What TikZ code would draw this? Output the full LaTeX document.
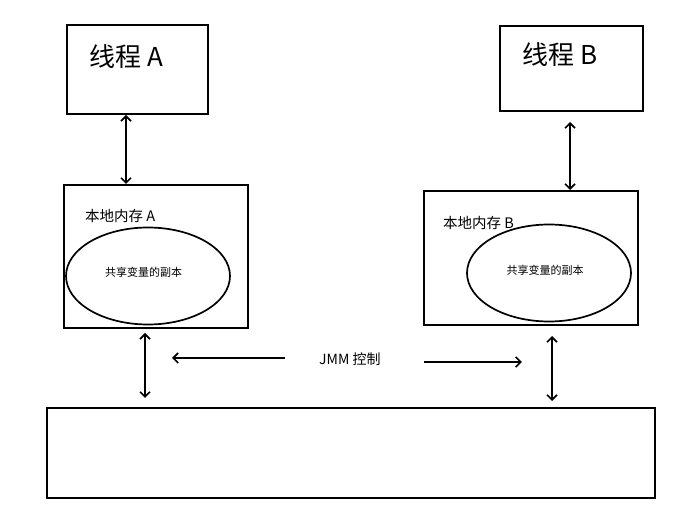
\documentclass[tikz,border=0pt]{standalone}
\usepackage{fontspec}
\setmainfont{Noto Sans CJK SC}
\usetikzlibrary{arrows.meta,shapes.geometric}

\begin{document}
\begin{tikzpicture}[
    x = 1pt, y = -1pt,
    box/.style = {draw, line width = 2pt, inner sep = 0pt},
    copy/.style = {ellipse, draw, line width = 1.7pt, inner sep = 0pt,
                   minimum width = 164pt, minimum height = 97pt},
    label/.style = {anchor = west, inner sep = 0pt},
    link/.style = {{Straight Barb[length=5pt,width=10pt]}-{Straight Barb[length=5pt,width=10pt]}, line width = 1.6pt},
    ctrl/.style = {-{Straight Barb[length=5pt,width=10pt]}, line width = 1.6pt}]

\useasboundingbox (0,0) rectangle (686,526);

% threads
\node[box, minimum width = 141pt, minimum height = 89pt] (threadA) at (137.5,69.5) {};
\node[box, minimum width = 143pt, minimum height = 85pt] (threadB) at (571.5,68.5) {};
% local memory
\node[box, minimum width = 184pt, minimum height = 143pt] (memA) at (155.5,256.5) {};
\node[box, minimum width = 214pt, minimum height = 134pt] (memB) at (531,258) {};
\node[copy] (copyA) at (148,276) {};
\node[copy] (copyB) at (549,273) {};
% main memory
\node[box, minimum width = 608pt, minimum height = 90pt] (mainmem) at (351,453) {};

\path (89,57) node[label, font = \fontsize{26}{30}\selectfont] (tA) {线程 A}
      (522,55) node[label, font = \fontsize{26}{30}\selectfont] (tB) {线程 B}
      (85,216) node[label, font = \fontsize{14.5}{17}\selectfont] (lA) {本地内存 A}
      (443,223) node[label, font = \fontsize{14.5}{17}\selectfont] (lB) {本地内存 B}
      (143.5,272) node[font = \fontsize{11}{13}\selectfont] (cA) {共享变量的副本}
      (545,270) node[font = \fontsize{11}{13}\selectfont] (cB) {共享变量的副本}
      (319,359) node[label, font = \fontsize{14}{17}\selectfont] (jmm) {JMM 控制};

\draw[link] ([xshift=-11.5pt]threadA.south) -- ([xshift=-11.5pt]threadA.south |- memA.north);
\draw[link] ([xshift=-1.5pt,yshift=-10pt]threadB.south) -- ([xshift=-1.5pt]threadB.south |- memB.north);
\draw[link] ([xshift=-10.5pt,yshift=-4pt]memA.south) -- ([xshift=-10.5pt,yshift=9pt]memA.south |- mainmem.north);
\draw[link] ([xshift=21pt,yshift=-10pt]memB.south) -- ([xshift=21pt,yshift=6pt]memB.south |- mainmem.north);
\draw[ctrl] ([xshift=-34pt,yshift=1pt]jmm.west) -- ([xshift=-147pt,yshift=1pt]jmm.west);
\draw[ctrl] ([xshift=43pt,yshift=-3pt]jmm.east) -- ([xshift=141pt,yshift=-3pt]jmm.east);
\end{tikzpicture}
\end{document}
